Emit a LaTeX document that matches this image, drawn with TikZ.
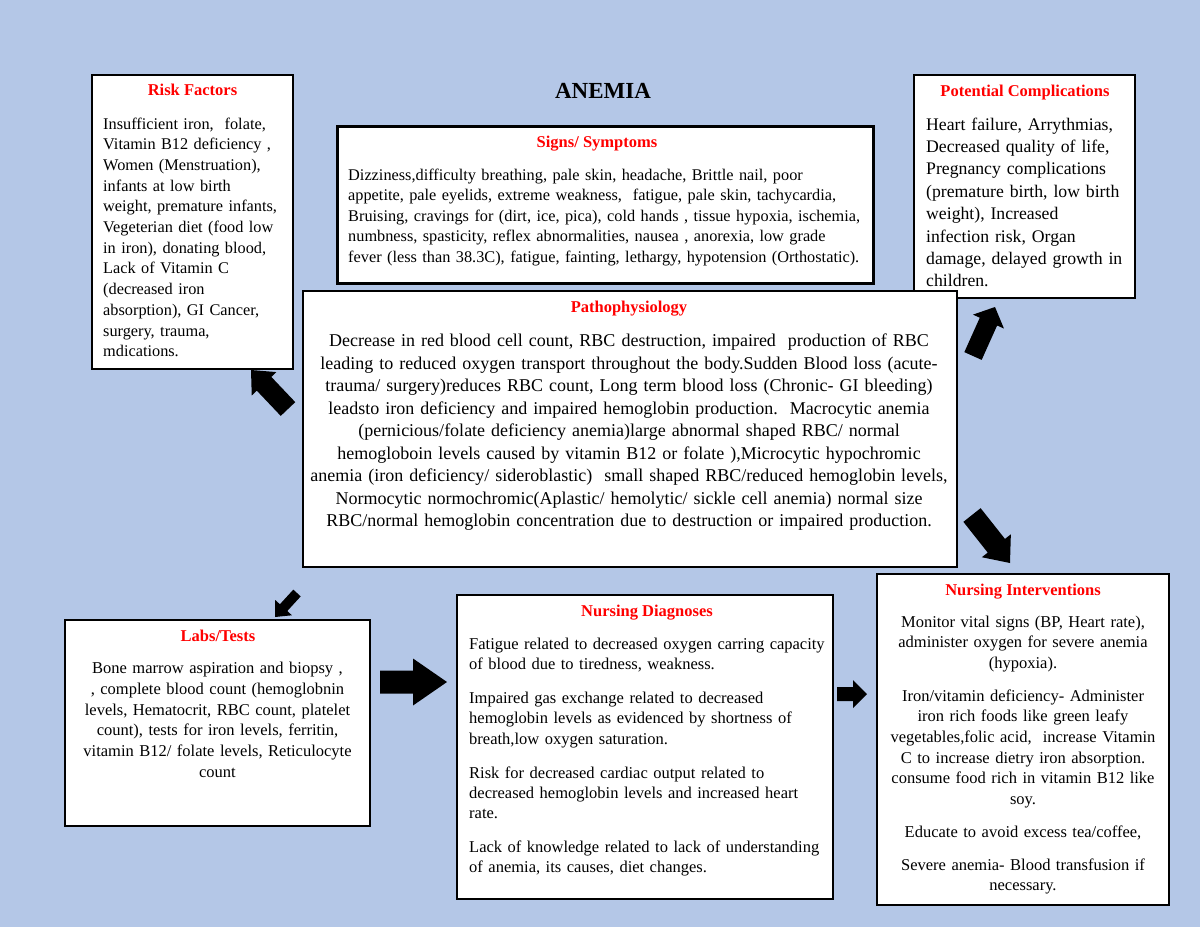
\documentclass[tikz,border=0pt]{standalone}
\usepackage{fontspec}
\setmainfont{Liberation Serif}
\usetikzlibrary{calc}
\definecolor{bgblue}{HTML}{B4C7E7}
\definecolor{headred}{HTML}{FF0000}
\newcommand\fs[2]{\fontsize{#1}{#2}\selectfont}
% #1 tail, #2 tip, #3 half shaft width, #4 half head width, #5 head length
\newcommand\blockarrow[5]{%
  \coordinate (bah) at ($(#2)!#5pt!(#1)$);
  \fill[arrowfill] ($(#1)!#3pt!90:(#2)$) -- ($(bah)!#3pt!90:(#2)$) -- ($(bah)!#4pt!90:(#2)$)
    -- (#2) -- ($(bah)!#4pt!-90:(#2)$) -- ($(bah)!#3pt!-90:(#2)$) -- ($(#1)!#3pt!-90:(#2)$) -- cycle;}
\begin{document}
\begin{tikzpicture}[x=1pt,y=-1pt,
  box/.style={draw=black, line width=2pt, fill=white, inner sep=0pt, outer sep=0pt, anchor=north west},
  head/.style={font=\fs{16.5}{20}\bfseries, text=headred, inner sep=0pt, anchor=base},
  bodyl/.style={align=left, inner sep=0pt, anchor=base west, text width=#1},
  bodyc/.style={align=center, inner sep=0pt, anchor=base, text width=#1},
  arrowfill/.style={fill=black},
  title/.style={font=\fs{23}{26}\bfseries, inner sep=0pt, anchor=base}]
\fill[bgblue] (0,0) rectangle (1200,927);
\useasboundingbox (0,0) rectangle (1200,927);

% arrow end points
\coordinate (aT) at (288,409); \coordinate (aH) at (251,370);
\coordinate (bT) at (973,356); \coordinate (bH) at (995,307);
\coordinate (cT) at (972,515); \coordinate (cH) at (1010,563);
\coordinate (dT) at (297,593); \coordinate (dH) at (275,617);
\coordinate (eT) at (380,682); \coordinate (eH) at (447,682);
\coordinate (fT) at (837,694); \coordinate (fH) at (867,694);
\blockarrow{aT}{aH}{10}{17}{19}
\blockarrow{bT}{bH}{9.5}{17}{16}
\blockarrow{cT}{cH}{11}{18.5}{22}
\blockarrow{dT}{dH}{5}{11.3}{12.7}
\blockarrow{eT}{eH}{11.5}{23.5}{34}
\blockarrow{fT}{fH}{7}{14}{14}

\node[title] (title) at (603,98) {ANEMIA};

% Risk factors
\node[box, minimum width=201pt, minimum height=294pt] (rf) at (92,75) {};
\node[head] (rfh) at (192.5,95.5) {Risk Factors};
\node[bodyl=188pt, font=\fs{16.3}{20.7}] (rfb) at (103,129) {Insufficient iron,\ \ folate,\\Vitamin B12 deficiency ,\\Women (Menstruation),\\infants at low birth\\weight, premature infants,\\Vegeterian diet (food low\\in iron), donating blood,\\Lack of Vitamin C\\(decreased iron\\absorption), GI Cancer,\\surgery, trauma,\\mdications.};

% Signs / Symptoms
\node[box, line width=3pt, minimum width=536pt, minimum height=157pt] (ss) at (337,126) {};
\node[head] (ssh) at (597,147.5) {Signs/ Symptoms};
\node[bodyl=520pt, font=\fs{16.3}{20.6}] (ssb) at (348,180) {Dizziness,difficulty breathing, pale skin, headache, Brittle nail, poor\\appetite, pale eyelids, extreme weakness,\ \ fatigue, pale skin, tachycardia,\\Bruising, cravings for (dirt, ice, pica), cold hands , tissue hypoxia, ischemia,\\numbness, spasticity, reflex abnormalities, nausea , anorexia, low grade\\fever (less than 38.3C), fatigue, fainting, lethargy, hypotension (Orthostatic).};

% Potential complications
\node[box, minimum width=221pt, minimum height=223pt] (pc) at (914,75) {};
\node[head] (pch) at (1025,96) {Potential Complications};
\node[bodyl=210pt, font=\fs{17.7}{22.4}] (pcb) at (926,130) {Heart failure, Arrythmias,\\Decreased quality of life,\\Pregnancy complications\\(premature birth, low birth\\weight), Increased\\infection risk, Organ\\damage, delayed growth in\\children.};

% Pathophysiology
\node[box, minimum width=654pt, minimum height=276pt] (pp) at (303,291) {};
\node[head] (pph) at (629,312.5) {Pathophysiology};
\node[bodyc=640pt, font=\fs{18}{22.5}] (ppb) at (629,346.5) {Decrease in red blood cell count, RBC destruction, impaired\ \ production of RBC\\leading to reduced oxygen transport throughout the body.Sudden Blood loss (acute-\\trauma/ surgery)reduces RBC count, Long term blood loss (Chronic- GI bleeding)\\leadsto iron deficiency and impaired hemoglobin production.\ \ Macrocytic anemia\\(pernicious/folate deficiency anemia)large abnormal shaped RBC/ normal\\hemogloboin levels caused by vitamin B12 or folate ),Microcytic hypochromic\\anemia (iron deficiency/ sideroblastic)\ \ small shaped RBC/reduced hemoglobin levels,\\Normocytic normochromic(Aplastic/ hemolytic/ sickle cell anemia) normal size\\RBC/normal hemoglobin concentration due to destruction or impaired production.};

% Labs / Tests
\node[box, minimum width=305pt, minimum height=206pt] (lt) at (65,620) {};
\node[head] (lth) at (218,641) {Labs/Tests};
\node[bodyc=295pt, font=\fs{16.5}{20.8}] (ltb) at (217.5,673.5) {Bone marrow aspiration and biopsy ,\\, complete blood count (hemoglobnin\\levels, Hematocrit, RBC count, platelet\\count), tests for iron levels, ferritin,\\vitamin B12/ folate levels, Reticulocyte\\count};

% Nursing diagnoses
\node[box, minimum width=376pt, minimum height=304pt] (nd) at (457,595) {};
\node[head] (ndh) at (647,616) {Nursing Diagnoses};
\node[bodyl=360pt, font=\fs{16.5}{20.3}] (ndb) at (469,649.5) {Fatigue related to decreased oxygen carring capacity\\of blood due to tiredness, weakness.\\[13.5pt]Impaired gas exchange related to decreased\\hemoglobin levels as evidenced by shortness of\\breath,low oxygen saturation.\\[13.5pt]Risk for decreased cardiac output related to\\decreased hemoglobin levels and increased heart\\rate.\\[13.5pt]Lack of knowledge related to lack of understanding\\of anemia, its causes, diet changes.};

% Nursing interventions
\node[box, minimum width=292pt, minimum height=331pt] (ni) at (877,574) {};
\node[head] (nih) at (1023,595.5) {Nursing Interventions};
\node[bodyc=284pt, font=\fs{16.5}{20.7}] (nib) at (1023,627) {Monitor vital signs (BP, Heart rate),\\administer oxygen for severe anemia\\(hypoxia).\\[12pt]Iron/vitamin deficiency- Administer\\iron rich foods like green leafy\\vegetables,folic acid,\ \ increase Vitamin\\C to increase dietry iron absorption.\\consume food rich in vitamin B12 like\\soy.\\[12pt]Educate to avoid excess tea/coffee,\\[12pt]Severe anemia- Blood transfusion if\\necessary.};
\end{tikzpicture}
\end{document}
